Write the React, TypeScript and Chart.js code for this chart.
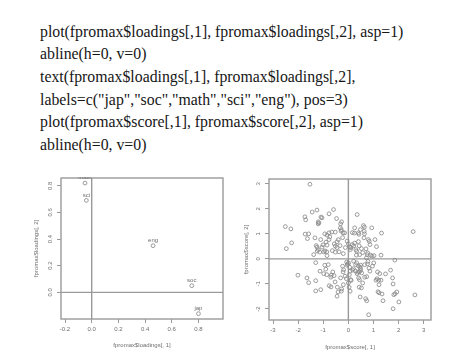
import React, { useEffect, useRef } from "react";
import { Chart, registerables } from "chart.js";

Chart.register(...registerables);

// ---------- data ----------
const CODE_LINES = [
  "plot(fpromax$loadings[,1], fpromax$loadings[,2], asp=1)",
  "abline(h=0, v=0)",
  "text(fpromax$loadings[,1], fpromax$loadings[,2],",
  'labels=c("jap","soc","math","sci","eng"), pos=3)',
  "plot(fpromax$score[,1], fpromax$score[,2], asp=1)",
  "abline(h=0, v=0)",
];

const LOAD_LABELS = ["jap", "soc", "math", "sci", "eng"];
const LOAD_X = [0.8, 0.75, -0.05, -0.04, 0.46];
const LOAD_Y = [-0.16, 0.05, 0.82, 0.69, 0.35];
const LOAD_X_TICKS = [-0.2, 0, 0.2, 0.4, 0.6, 0.8];
const LOAD_Y_TICKS = [0, 0.2, 0.4, 0.6, 0.8];

const SCORE_X = [
  -1.53, -1.25, -0.59, -1.73, -1.7, -1.44, -1.09, -1.05, -0.77, -0.47,
  0.35, -0.27, -0.31, -1.2, -1.2, -1.17, -2.51, -2.29, -1.72, -1.58,
  -1.63, -1.33, -1.1, -0.94, -0.85, -0.77, -0.66, -0.52, -0.32, -0.28,
  -0.29, -0.21, -0.15, -0.4, -0.45, -0.56, -0.52, -0.77, -0.89, -0.85,
  -1.01, -1.05, -1.28, -1.25, -1.14, -1.2, -0.93, -0.98, -0.85, -2.26,
  -2.47, -1.38, -1.24, -0.86, -0.37, -0.33, -0.2, -0.05, 0.0, 0.05,
  0.16, 0.21, 0.25, 0.3, 0.33, 0.4, 0.43, 0.52, 0.57, 0.62,
  0.64, 0.63, 0.6, 0.64, 0.48, 0.4, 0.42, 0.25, 0.93, 0.8,
  0.83, 1.06, 1.12, 0.86, 0.77, 0.75, 0.88, 1.02, 1.32, 1.3,
  2.58, 1.85, 1.68, 1.48, -2.01, -1.65, -1.58, -1.3, -1.13, -1.3,
  -1.1, -1.3, -0.94, -0.9, -0.8, -0.86, -0.98, -0.7, -0.68, -0.76,
  -0.69, -0.57, -0.62, -0.53, -0.44, -0.41, -0.45, -0.27, -0.28, -0.2,
  -0.31, -0.21, -0.13, -0.08, -0.23, -0.19, -0.07, -0.03, -0.05, 0.01,
  0.05, 0.07, 0.04, 0.09, 0.11, 0.0, 0.03, 0.07, 0.21, 0.29,
  0.33, 0.4, 0.46, 0.49, 0.17, 0.2, 0.28, 0.35, 0.37, 0.43,
  0.48, 0.53, 0.49, 0.41, 0.44, 0.57, 0.43, 0.52, 0.47, 0.65,
  0.73, 0.69, 0.73, 0.81, 0.65, 0.76, 0.78, 0.82, 0.86, 0.96,
  1.01, 1.1, 1.14, 1.21, 1.22, 1.18, 1.22, 1.34, 1.38, 1.16,
  1.25, 1.3, 1.76, 1.78, 1.78, 1.81, 1.86, 1.93, 2.01, 2.65,
  -0.74, -0.64, -0.52, -0.23, 0.16, 0.24, 0.08, 0.7, 0.94, 0.72,
  0.32, 0.45, -0.12, 0.1, -0.45,
];
const SCORE_Y = [
  2.98, 1.95, 1.97, 1.68, 1.56, 1.87, 1.67, 1.64, 1.8, 1.61,
  1.77, 1.48, 1.4, 1.48, 1.4, 1.44, 1.29, 1.2, 0.99, 1.0,
  0.81, 0.84, 0.77, 1.0, 0.95, 1.04, 1.07, 1.07, 1.24, 1.17,
  1.11, 1.04, 1.04, 0.77, 0.68, 0.6, 0.51, 0.77, 0.67, 0.55,
  0.56, 0.47, 0.53, 0.47, 0.27, 0.37, 0.32, 0.28, 0.13, 0.64,
  0.41, 0.17, 0.31, 0.28, 0.28, 0.53, 0.21, 0.71, 0.6, 0.47,
  0.57, 0.52, 0.63, 0.37, 0.31, 0.69, 0.52, 0.41, 0.25, 0.84,
  1.0, 1.1, 1.33, 1.27, 1.17, 1.04, 0.98, 1.24, 1.24, 0.77,
  0.7, 0.77, 0.49, 0.57, 0.24, 0.17, 0.15, 0.13, 1.03, 0.15,
  1.09, -0.05, -0.45, -0.6, -0.65, -0.76, -0.95, -0.15, -0.49, -0.87,
  -1.23, -1.28, -0.25, -0.41, -0.23, -0.63, -0.59, -0.73, -0.65, -1.07,
  -1.12, -0.67, -0.52, -0.92, -1.13, -1.32, -1.49, -1.2, -1.29, -1.03,
  -0.76, -0.52, -0.69, -0.79, -0.29, -0.43, -0.13, -0.2, -0.25, -0.17,
  -0.33, -0.49, -0.63, -0.83, -0.86, -0.96, -1.13, -1.29, -0.09, -0.23,
  -0.16, -0.28, -0.33, -0.25, -0.45, -0.39, -0.48, -0.59, -0.53, -0.52,
  -0.47, -0.56, -0.39, -0.76, -0.83, -0.96, -1.13, -1.16, -1.52, -0.73,
  -0.71, -1.59, -1.67, -2.23, -0.23, -0.2, -0.1, -0.37, -0.49, -0.29,
  -0.16, -0.85, -0.79, -0.85, -1.03, -1.31, -1.35, -1.4, -1.67, -0.52,
  -0.59, -0.85, -0.76, -1.0, -1.99, -1.43, -1.39, -1.32, -1.72, -1.44,
  0.88, 0.33, 0.27, 0.85, 1.05, 1.03, 0.37, 0.4, 0.11, 0.04,
  0.15, 0.17, 0.45, 0.45, 0.45,
];
const SCORE_X_TICKS = [-3, -2, -1, 0, 1, 2, 3];
const SCORE_Y_TICKS = [-2, -1, 0, 1, 2, 3];

// ---------- styles ----------
const AXIS_COLOR = "#9a9a9a";
const TEXT_COLOR = "#6e6e6e";
const POINT_COLOR = "#8a8a8a";
const FONT_FAMILY = "'Liberation Sans', Arial, sans-serif";

const rFramePlugin = {
  id: "rFrame",
  beforeDatasetsDraw(chart: any) {
    const { ctx, chartArea: a, scales } = chart;
    const x0 = scales.x.getPixelForValue(0);
    const y0 = scales.y.getPixelForValue(0);
    ctx.save();
    ctx.strokeStyle = AXIS_COLOR;
    ctx.lineWidth = 1.4;
    ctx.strokeRect(a.left, a.top, a.right - a.left, a.bottom - a.top);
    ctx.beginPath();
    ctx.moveTo(x0, a.top);
    ctx.lineTo(x0, a.bottom);
    ctx.moveTo(a.left, y0);
    ctx.lineTo(a.right, y0);
    ctx.stroke();
    ctx.restore();
  },
};

const pointLabelPlugin = {
  id: "pointLabels",
  afterDatasetsDraw(chart: any) {
    const labels: string[] | undefined = chart.options.plugins.pointLabels?.labels;
    if (!labels) return;
    const { ctx, chartArea: a } = chart;
    const meta = chart.getDatasetMeta(0);
    ctx.save();
    ctx.beginPath();
    ctx.rect(a.left, a.top - 1, a.right - a.left, a.bottom - a.top + 1);
    ctx.clip();
    ctx.fillStyle = TEXT_COLOR;
    ctx.font = `6px ${FONT_FAMILY}`;
    ctx.textAlign = "center";
    ctx.textBaseline = "middle";
    meta.data.forEach((el: any, i: number) => {
      ctx.fillText(labels[i], el.x, el.y - 5.5);
    });
    ctx.restore();
  },
};

type PlotCfg = {
  xs: number[];
  ys: number[];
  xTicks: number[];
  yTicks: number[];
  xMin: number;
  xMax: number;
  yMin: number;
  yMax: number;
  xTitle: string;
  yTitle: string;
  fmt: (v: number) => string;
  padTop: number;
  padRight: number;
  yWidth: number;
  xHeight: number;
  yTitlePad: number;
  xTitlePad: number;
  yTickPad: number;
  labels?: string[];
};

function buildConfig(c: PlotCfg): any {
  const tickFont = { family: FONT_FAMILY, size: 6 };
  return {
    type: "scatter",
    data: {
      datasets: [
        {
          data: c.xs.map((x, i) => ({ x, y: c.ys[i] })),
          pointRadius: 1.9,
          pointBorderWidth: 0.85,
          pointBorderColor: POINT_COLOR,
          pointBackgroundColor: "rgba(0,0,0,0)",
          pointStyle: "circle",
        },
      ],
    },
    options: {
      responsive: false,
      maintainAspectRatio: false,
      animation: false,
      events: [],
      layout: { padding: { top: c.padTop, right: c.padRight, left: 0, bottom: 0 } },
      plugins: {
        legend: { display: false },
        tooltip: { enabled: false },
        pointLabels: { labels: c.labels },
      },
      scales: {
        x: {
          type: "linear",
          min: c.xMin,
          max: c.xMax,
          afterBuildTicks: (s: any) => {
            s.ticks = c.xTicks.map((v) => ({ value: v }));
          },
          afterFit: (s: any) => {
            s.height = c.xHeight;
          },
          border: { display: false },
          grid: {
            drawOnChartArea: false,
            drawTicks: true,
            tickLength: 4,
            color: AXIS_COLOR,
            lineWidth: 1,
          },
          ticks: {
            font: tickFont,
            color: TEXT_COLOR,
            padding: 3,
            autoSkip: false,
            maxRotation: 0,
            minRotation: 0,
            callback: (v: any) => c.fmt(Number(v)),
          },
          title: {
            display: true,
            text: c.xTitle,
            font: tickFont,
            color: TEXT_COLOR,
            padding: { top: 0, bottom: c.xTitlePad },
          },
        },
        y: {
          type: "linear",
          min: c.yMin,
          max: c.yMax,
          afterBuildTicks: (s: any) => {
            s.ticks = c.yTicks.map((v) => ({ value: v }));
          },
          afterFit: (s: any) => {
            s.width = c.yWidth;
          },
          border: { display: false },
          grid: {
            drawOnChartArea: false,
            drawTicks: true,
            tickLength: 4,
            color: AXIS_COLOR,
            lineWidth: 1,
          },
          ticks: {
            font: tickFont,
            color: TEXT_COLOR,
            padding: c.yTickPad,
            autoSkip: false,
            minRotation: 90,
            maxRotation: 90,
            crossAlign: "center",
            callback: (v: any) => c.fmt(Number(v)),
          },
          title: {
            display: true,
            text: c.yTitle,
            font: tickFont,
            color: TEXT_COLOR,
            padding: { top: c.yTitlePad, bottom: 0 },
          },
        },
      },
    },
    plugins: [rFramePlugin, pointLabelPlugin],
  };
}

function Plot({
  left,
  top,
  width,
  height,
  cfg,
}: {
  left: number;
  top: number;
  width: number;
  height: number;
  cfg: PlotCfg;
}) {
  const ref = useRef<HTMLCanvasElement | null>(null);
  useEffect(() => {
    if (!ref.current) return;
    const chart = new Chart(ref.current, buildConfig(cfg));
    return () => chart.destroy();
  }, []);
  return (
    <canvas
      ref={ref}
      width={width}
      height={height}
      style={{ position: "absolute", left, top, width, height }}
    />
  );
}

const loadCfg: PlotCfg = {
  xs: LOAD_X,
  ys: LOAD_Y,
  xTicks: LOAD_X_TICKS,
  yTicks: LOAD_Y_TICKS,
  xMin: -0.23,
  xMax: 0.984,
  yMin: -0.2,
  yMax: 0.858,
  xTitle: "fpromax$loadings[, 1]",
  yTitle: "fpromax$loadings[, 2]",
  fmt: (v) => v.toFixed(1),
  padTop: 10,
  padRight: 7,
  yWidth: 41,
  xHeight: 36,
  yTitlePad: 13,
  xTitlePad: 6,
  yTickPad: 2.5,
  labels: LOAD_LABELS,
};

const scoreCfg: PlotCfg = {
  xs: SCORE_X,
  ys: SCORE_Y,
  xTicks: SCORE_X_TICKS,
  yTicks: SCORE_Y_TICKS,
  xMin: -3.16,
  xMax: 3.29,
  yMin: -2.44,
  yMax: 3.19,
  xTitle: "fpromax$score[, 1]",
  yTitle: "fpromax$score[, 2]",
  fmt: (v) => String(v),
  padTop: 11,
  padRight: 43,
  yWidth: 29,
  xHeight: 35,
  yTitlePad: 2.5,
  xTitlePad: 4.5,
  yTickPad: 3.5,
};

export default function App() {
  return (
    <div
      style={{
        position: "absolute",
        left: 0,
        top: 0,
        width: 474,
        height: 355,
        background: "#ffffff",
        overflow: "hidden",
      }}
    >
      <div
        style={{
          position: "absolute",
          left: 40,
          top: 20.5,
          fontFamily: "'Liberation Serif', 'Times New Roman', serif",
          fontSize: 15.8,
          lineHeight: "22.7px",
          color: "#161616",
          whiteSpace: "pre",
        }}
      >
        {CODE_LINES.map((l, i) => (
          <div key={i}>{l}</div>
        ))}
      </div>
      <Plot left={20} top={168} width={210} height={187} cfg={loadCfg} />
      <Plot left={240} top={168} width={234} height={187} cfg={scoreCfg} />
    </div>
  );
}
